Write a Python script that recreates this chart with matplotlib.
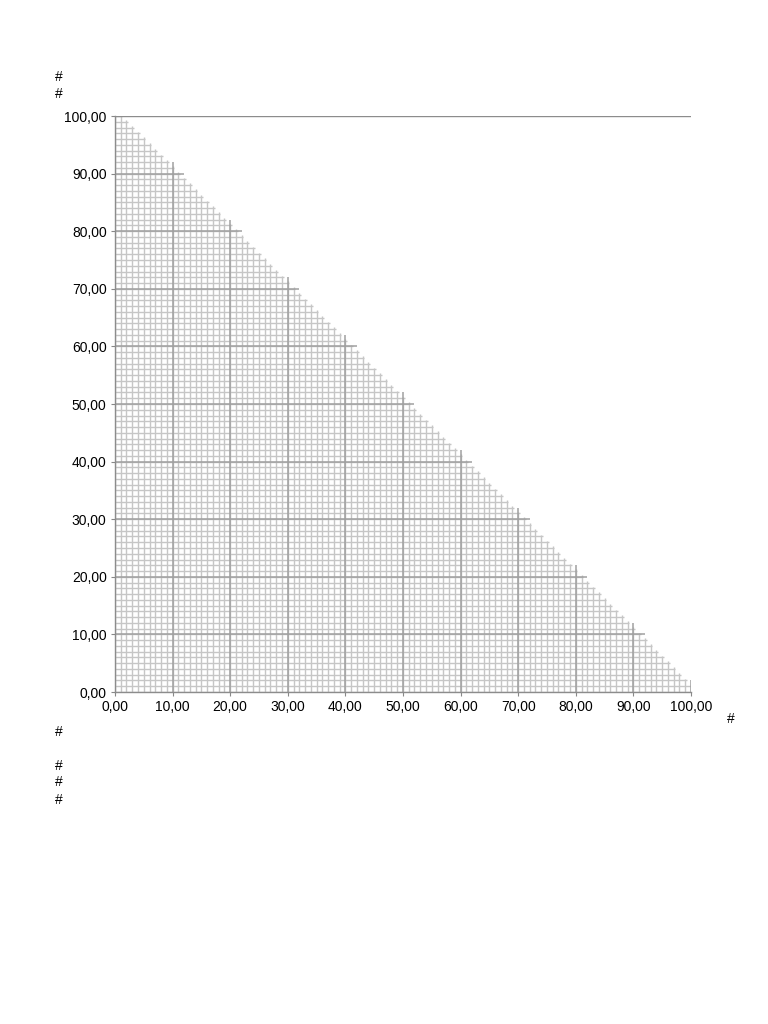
import matplotlib
matplotlib.use("Agg")
import matplotlib.pyplot as plt

plt.rcParams['font.family'] = ['Liberation Sans', 'DejaVu Sans']

# grid levels of the triangular paper (x + y <= 100)
minor_levels = list(range(0, 101))
major_levels = list(range(10, 101, 10))
tick_values = list(range(0, 101, 10))
tick_labels = [f"{v:.2f}".replace('.', ',') for v in tick_values]
top_line = 100

# placeholder marks around the chart (figure coords)
hash_marks = [(0.072, 0.925), (0.072, 0.908), (0.072, 0.285),
              (0.072, 0.252), (0.072, 0.236), (0.072, 0.219),
              (0.946, 0.298)]

fig = plt.figure(figsize=(7.68, 10.24), dpi=100)
ax = fig.add_axes([0.1497, 0.3242, 0.75, 0.5625])

minor_col = '#c6c6c6'
major_col = '#a0a0a0'

# minor grid, stepped along the hypotenuse
for k in minor_levels:
    end = min(100, 101.3 - k)
    ax.hlines(k, 0, end, color=minor_col, linewidth=1.0, zorder=1)
    ax.vlines(k, 0, end, color=minor_col, linewidth=1.0, zorder=1)

# major grid every 10
for k in major_levels:
    end = min(100, 102 - k)
    ax.hlines(k, 0, end, color=major_col, linewidth=1.1, zorder=2)
    ax.vlines(k, 0, end, color=major_col, linewidth=1.1, zorder=2)

ax.hlines(top_line, 0, 100, color='#8c8c8c', linewidth=1.0, zorder=3)

ax.set_xlim(0, 100)
ax.set_ylim(0, 100)
ax.set_xticks(tick_values)
ax.set_xticklabels(tick_labels)
ax.set_yticks(tick_values)
ax.set_yticklabels(tick_labels)
ax.tick_params(axis='both', direction='out', length=3, width=0.8,
               color='#888888', labelsize=10, labelcolor='black', pad=3)

for side in ['top', 'right']:
    ax.spines[side].set_visible(False)
for side in ['left', 'bottom']:
    ax.spines[side].set_color('#8c8c8c')
    ax.spines[side].set_linewidth(1.0)
    ax.spines[side].set_zorder(4)

for x, y in hash_marks:
    fig.text(x, y, '#', fontsize=10, ha='left', va='center')

fig.savefig('out.png', dpi=100)
